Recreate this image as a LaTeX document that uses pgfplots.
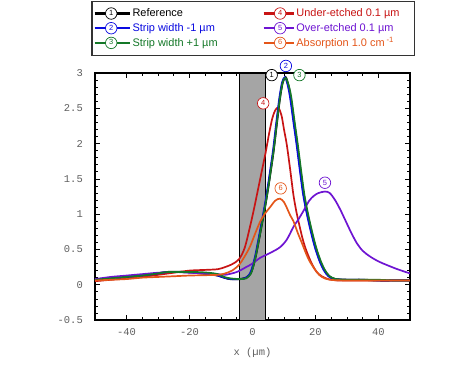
\documentclass[border=0pt]{standalone}
\usepackage{pgfplots}
\pgfplotsset{compat=1.18}
\usepackage{fontspec}
\setmainfont{Liberation Sans}
\setmonofont{Liberation Mono}
\definecolor{cBlack}{RGB}{0,0,0}
\definecolor{cBlue}{RGB}{10,10,225}
\definecolor{cGreen}{RGB}{20,120,40}
\definecolor{cRed}{RGB}{200,20,20}
\definecolor{cPurple}{RGB}{110,20,210}
\definecolor{cOrange}{RGB}{228,85,25}
\definecolor{cTick}{RGB}{95,95,95}
\definecolor{cRect}{RGB}{165,165,165}
\tikzset{numc/.style={circle, draw=#1, fill=white, line width=0.7bp, inner sep=0pt, minimum size=11.5bp, text=#1, font=\fontsize{7.5}{7.5}\selectfont, anchor=center}}
\newcommand{\legimg}[3]{\draw[#1, line width=2.2bp] (0bp,0bp) -- (#3,0bp); \node[numc=#1] at (16.5bp,0bp) {#2};}
\begin{document}
\begin{tikzpicture}
\begin{axis}[
  at={(0,0)}, anchor=south west,
  scale only axis, width=315bp, height=247bp,
  xmin=-50, xmax=50, ymin=-0.5, ymax=3,
  xtick={-40,-20,0,20,40}, minor x tick num=3,
  ytick={-0.5,0,0.5,1,1.5,2,2.5,3}, minor y tick num=4,
  tick align=inside, tick pos=both,
  major tick length=5bp, minor tick length=3bp,
  axis line style={line width=1.2bp},
  every tick/.style={black, line width=0.6bp},
  /pgf/number format/assume math mode=true,
  tick label style={font=\ttfamily\fontsize{10.5}{12}\selectfont, text=cTick, inner sep=0pt},
  xticklabel style={anchor=center, yshift=-12bp},
  yticklabel style={anchor=east, xshift=-12bp},
  xlabel={x (µm)},
  xlabel style={font=\ttfamily\fontsize{10.5}{12}\selectfont, text=cTick, at={(axis description cs:0.5,0)}, anchor=center, yshift=-33bp},
  clip mode=individual,
  legend columns=2,
  legend cell align=left,
  legend style={at={(-0.0117,1.2935)}, anchor=north west, draw=black!80, line width=1.2bp,
    font=\fontsize{11}{13}\selectfont, inner xsep=1.7bp, inner ysep=6.3bp,
    nodes={inner sep=0pt},
    /tikz/every odd column/.append style={column sep=1.7bp},
    /tikz/every even column/.append style={column sep=0pt},
    row sep=2.5bp},
]
\addplot[draw=black, line width=0.8bp, fill=cRect, forget plot] coordinates {(-4.2,-0.5) (4,-0.5) (4,3) (-4.2,3)} -- cycle;

% 1 Reference
\addplot[cBlack, line width=2bp, smooth, legend image code/.code={\legimg{cBlack}{1}{35bp}}] coordinates {
(-50,0.07) (-45,0.09) (-40,0.11) (-35,0.13) (-30,0.16) (-27,0.18) (-22,0.18) (-18,0.17) (-14,0.15) (-11,0.13) (-9,0.1) (-7,0.08) (-4,0.08) (-2,0.1) (-0.6,0.16) (0.2,0.26) (1,0.4) (1.8,0.58) (2.6,0.77) (3.4,0.96) (4.2,1.16) (5,1.38) (5.8,1.62) (6.7,1.9) (7.7,2.28) (8.7,2.64) (9.6,2.87) (10.5,2.94) (11.3,2.84) (12.1,2.66) (13.2,2.3) (14.2,1.98) (15.2,1.63) (16.3,1.27) (17.6,0.97) (19,0.7) (20.2,0.5) (21.6,0.32) (22.9,0.2) (24.3,0.12) (26.2,0.08) (30,0.07) (35,0.07) (40,0.06) (45,0.06) (50,0.06)};
\addlegendentry{\makebox[130bp][l]{\textcolor{cBlack}{Reference}}}

% 4 Under-etched
\addplot[cRed, line width=1.7bp, smooth, legend image code/.code={\legimg{cRed}{4}{30bp}}] coordinates {
(-50,0.05) (-45,0.07) (-40,0.09) (-35,0.11) (-30,0.14) (-25,0.17) (-20,0.2) (-15,0.21) (-11,0.22) (-8.7,0.25) (-6.5,0.29) (-4.3,0.36) (-2.5,0.52) (-0.8,0.82) (0.5,1.08) (1.8,1.36) (3,1.62) (4.2,1.88) (5.3,2.15) (6.3,2.36) (7.2,2.47) (8.2,2.51) (9.2,2.4) (10,2.2) (10.9,1.98) (12,1.62) (13,1.27) (14,1.02) (15.1,0.8) (16.1,0.62) (17.2,0.47) (18.8,0.3) (20.4,0.18) (22,0.12) (24,0.08) (27,0.06) (30,0.06) (40,0.06) (50,0.06)};
\addlegendentry{\makebox[116bp][l]{\textcolor{cRed}{Under-etched 0.1 µm}}}

% 2 Strip width -1
\addplot[cBlue, line width=1.7bp, smooth, legend image code/.code={\legimg{cBlue}{2}{35bp}}] coordinates {
(-50,0.07) (-45,0.09) (-40,0.11) (-35,0.13) (-30,0.16) (-27,0.18) (-22,0.18) (-18,0.17) (-14,0.15) (-11,0.13) (-9,0.1) (-7,0.08) (-4,0.08) (-2,0.1) (-0.8,0.16) (0,0.26) (0.8,0.4) (1.6,0.58) (2.4,0.77) (3.2,0.96) (4,1.16) (4.8,1.38) (5.6,1.62) (6.5,1.9) (7.5,2.28) (8.5,2.64) (9.4,2.87) (10.3,2.94) (11.1,2.84) (11.9,2.66) (13,2.3) (14,1.98) (15,1.63) (16.1,1.27) (17.4,0.97) (18.8,0.7) (20,0.5) (21.4,0.32) (22.7,0.2) (24.1,0.12) (26,0.08) (30,0.07) (35,0.07) (40,0.06) (45,0.06) (50,0.06)};
\addlegendentry{\makebox[130bp][l]{\textcolor{cBlue}{Strip width -1 µm}}}

% 5 Over-etched
\addplot[cPurple, line width=1.7bp, smooth, legend image code/.code={\legimg{cPurple}{5}{30bp}}] coordinates {
(-50,0.08) (-45,0.11) (-40,0.13) (-35,0.15) (-30,0.17) (-25,0.18) (-20,0.17) (-15,0.16) (-11,0.15) (-8.7,0.14) (-5,0.18) (-2,0.25) (0,0.3) (2.4,0.38) (5.6,0.45) (8.7,0.53) (10.9,0.64) (13,0.82) (14.5,0.92) (16.1,1.04) (18,1.19) (19.5,1.26) (21,1.3) (23,1.32) (24.5,1.3) (26.2,1.2) (27.8,1.07) (29.4,0.92) (31.2,0.75) (33.1,0.59) (35,0.48) (37.3,0.4) (40,0.33) (42.6,0.28) (46,0.22) (50,0.16)};
\addlegendentry{\makebox[116bp][l]{\textcolor{cPurple}{Over-etched 0.1 µm}}}

% 3 Strip width +1
\addplot[cGreen, line width=1.7bp, smooth, legend image code/.code={\legimg{cGreen}{3}{35bp}}] coordinates {
(-50,0.07) (-45,0.09) (-40,0.11) (-35,0.13) (-30,0.16) (-27,0.18) (-22,0.18) (-18,0.18) (-14,0.17) (-11,0.15) (-9,0.11) (-7,0.09) (-4,0.08) (-2,0.09) (-0.6,0.15) (0.2,0.25) (1,0.4) (1.8,0.58) (2.6,0.77) (3.4,0.96) (4.2,1.16) (5,1.38) (5.8,1.62) (6.7,1.9) (7.7,2.28) (8.7,2.64) (9.6,2.87) (10.5,2.93) (11.4,2.84) (12.3,2.66) (13.4,2.3) (14.4,1.98) (15.4,1.63) (16.5,1.27) (17.8,0.97) (19.2,0.7) (20.4,0.5) (21.8,0.32) (23.1,0.2) (24.5,0.12) (26.5,0.08) (30,0.07) (35,0.07) (40,0.07) (45,0.06) (50,0.06)};
\addlegendentry{\makebox[130bp][l]{\textcolor{cGreen}{Strip width +1 µm}}}

% 6 Absorption
\addplot[cOrange, line width=1.7bp, smooth, legend image code/.code={\legimg{cOrange}{6}{30bp}}] coordinates {
(-50,0.06) (-45,0.07) (-40,0.08) (-35,0.1) (-30,0.11) (-25,0.12) (-20,0.13) (-15,0.135) (-11,0.14) (-8.7,0.16) (-6.5,0.2) (-4.3,0.28) (-2.5,0.4) (-0.8,0.54) (0.8,0.72) (2.4,0.89) (4,1.01) (5.6,1.1) (7.2,1.19) (8.7,1.22) (10,1.17) (11,1.08) (12,0.98) (13,0.9) (14.5,0.72) (15.6,0.6) (17.2,0.42) (18.3,0.32) (20.4,0.18) (22,0.11) (24.6,0.07) (30,0.06) (40,0.06) (50,0.06)};
\addlegendentry{\makebox[116bp][l]{\textcolor{cOrange}{Absorption 1.0 cm\,\textsuperscript{-1}}}}

\node[numc=cBlack] at (axis cs:6.1,2.97) {1};
\node[numc=cBlue] at (axis cs:10.6,3.1) {2};
\node[numc=cGreen] at (axis cs:14.9,2.97) {3};
\node[numc=cRed] at (axis cs:3.4,2.57) {4};
\node[numc=cPurple] at (axis cs:23,1.445) {5};
\node[numc=cOrange] at (axis cs:8.95,1.365) {6};
\end{axis}
\pgfresetboundingbox
\path[use as bounding box] (-95bp,-46bp) rectangle (379bp,320bp);
\end{tikzpicture}
\end{document}
